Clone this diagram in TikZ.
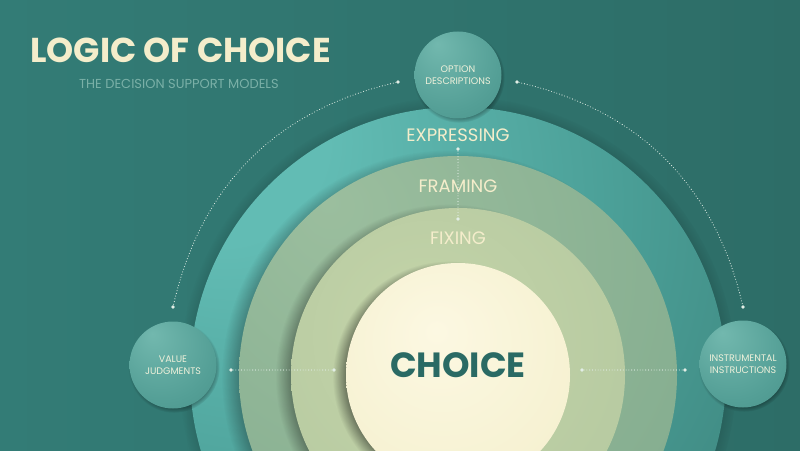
\documentclass[tikz,border=0pt]{standalone}
\usepackage{fontspec}
\setmainfont{Poppins}
\usetikzlibrary{positioning,shadows}

\definecolor{bgleft}{HTML}{337C76}
\definecolor{bgright}{HTML}{2D6D67}
\definecolor{cream}{HTML}{F4EDCB}
\definecolor{subcol}{HTML}{7AB0A7}
\definecolor{labelcol}{HTML}{EEF0DA}
\definecolor{choicecol}{HTML}{2A6A64}
\definecolor{dotcol}{HTML}{E2EEE6}

\definecolor{outerlight}{HTML}{62BCB4}
\definecolor{outermid}{HTML}{4A9E96}
\definecolor{outerdark}{HTML}{2C645D}
\definecolor{framelight}{HTML}{9BBE9E}
\definecolor{framemid}{HTML}{87AF91}
\definecolor{framedark}{HTML}{688F79}
\definecolor{fixlight}{HTML}{C4D4A9}
\definecolor{fixmid}{HTML}{B5C9A0}
\definecolor{fixdark}{HTML}{9DB58F}
\definecolor{choicelight}{HTML}{FCF8E2}
\definecolor{choicemid}{HTML}{F4EFCC}
\definecolor{choicedark}{HTML}{E9E4BC}
\definecolor{balllight}{HTML}{72B8AE}
\definecolor{ballmid}{HTML}{549F96}
\definecolor{balldark}{HTML}{3D857D}

\pgfdeclareradialshading{outershade}{\pgfpoint{-25bp}{25bp}}{%
  color(0bp)=(outerlight); color(10bp)=(outerlight); color(32bp)=(outermid);
  color(70bp)=(outerdark); color(90bp)=(outerdark)}
\pgfdeclareradialshading{framingshade}{\pgfpoint{-15bp}{20bp}}{%
  color(0bp)=(framelight); color(35bp)=(framemid); color(72bp)=(framedark)}
\pgfdeclareradialshading{fixingshade}{\pgfpoint{-6bp}{8bp}}{%
  color(0bp)=(fixlight); color(35bp)=(fixmid); color(60bp)=(fixdark)}
\pgfdeclareradialshading{choiceshade}{\pgfpoint{-5bp}{10bp}}{%
  color(0bp)=(choicelight); color(40bp)=(choicemid); color(58bp)=(choicedark)}
\pgfdeclareradialshading{smallshade}{\pgfpoint{-12bp}{18bp}}{%
  color(0bp)=(balllight); color(30bp)=(ballmid); color(62bp)=(balldark)}

\begin{document}
\begin{tikzpicture}[x=1pt, y=1pt, node distance=51.5pt,
    ring/.style={circle, draw=none, inner sep=0pt, shade},
    ring shadow/.style={circular drop shadow={shadow xshift=-9pt, shadow yshift=-2pt,
        shadow scale=1.035, opacity=0.55, fill=black}},
    small node/.style={circle, inner sep=0pt, minimum size=87pt, shade, shading=smallshade,
        align=center, text=labelcol, font=\fontsize{9.5}{11.5}\selectfont,
        circular drop shadow={shadow xshift=1pt, shadow yshift=-2pt, shadow scale=1.05,
        opacity=0.4, fill=black}},
    ring label/.style={text=cream, font=\fontsize{18}{21}\selectfont},
    dot/.style={circle, fill=dotcol, inner sep=0pt, minimum size=3.8pt},
    dotline/.style={draw=dotcol, line width=1.1pt, dash pattern=on 0pt off 2.8pt, line cap=round}]

  \useasboundingbox (0,0) rectangle (800,450);
  \clip (0,0) rectangle (800,450);
  \shade[left color=bgleft, right color=bgright] (0,0) rectangle (800,450);

  % rings
  \node[ring, shading=outershade, minimum size=536pt,
    circular drop shadow={shadow scale=1.04, shadow xshift=0pt, shadow yshift=0pt,
    opacity=0.4, fill=black}] (expressing ring) at (458,75) {};
  \node[ring, ring shadow, shading=framingshade, minimum size=438pt] (framing ring) at (expressing ring.center) {};
  \node[ring, ring shadow, shading=fixingshade, minimum size=334pt] (fixing ring) at (expressing ring.center) {};
  \node[ring, ring shadow, shading=choiceshade, minimum size=224pt] (choice ring) at (expressing ring.center) {};

  % ring labels
  \node[ring label] (expressing) at (458,315) {EXPRESSING};
  \node[ring label] (framing) [below of=expressing] {FRAMING};
  \node[ring label] (fixing) [below of=framing] {FIXING};
  \node[text=choicecol, font=\fontsize{35}{40}\bfseries] (choice) at (458,85) {CHOICE};

  % title
  \node[anchor=base west, inner sep=0pt, text=cream, font=\fontsize{34.5}{40}\bfseries] (title) at (30,387) {LOGIC OF CHOICE};
  \node[anchor=base west, inner sep=0pt, text=subcol, font=\fontsize{13}{15}\selectfont] (subtitle) at (79,361) {THE DECISION SUPPORT MODELS};

  % outer circles
  \node[small node] (option) at (458,375) {OPTION\\DESCRIPTIONS};
  \node[small node] (value) at (173,85) {VALUE\\JUDGMENTS};
  \node[small node] (instrumental) at (743,86) {INSTRUMENTAL\\INSTRUCTIONS};

  % dotted connectors
  \node[dot] (arc left a) at (398,368) {};
  \node[dot] (arc left b) at (173,143) {};
  \node[dot] (arc right a) at (517,368) {};
  \node[dot] (arc right b) at (743,143) {};
  \node[dot] (line left a) at (231,80) {};
  \node[dot] (line left b) at (334,80) {};
  \node[dot] (line right a) at (582,80) {};
  \node[dot] (line right b) at (685,80) {};
  \node[dot] (line up a) at (458,301) {};
  \node[dot] (line up b) at (458,231) {};

  \path[dotline]
    (arc left a) edge[bend right=32] (arc left b)
    (arc right a) edge[bend left=32] (arc right b)
    (line left a) edge (line left b)
    (line right a) edge (line right b)
    (line up a) edge (line up b);

\end{tikzpicture}
\end{document}
